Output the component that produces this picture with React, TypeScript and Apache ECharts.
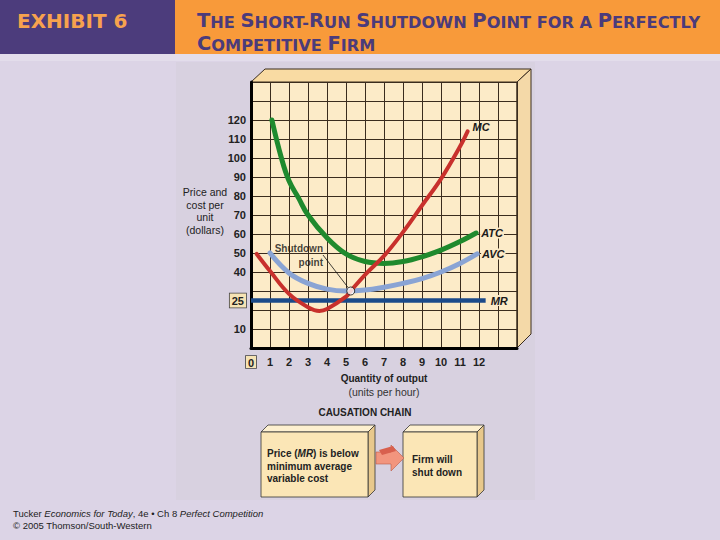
import React, { useEffect, useRef } from 'react';
import * as echarts from 'echarts';

// ---- data ----
const xTickLabels = [0, 1, 2, 3, 4, 5, 6, 7, 8, 9, 10, 11, 12];
const yTickLabels = [10, 25, 40, 50, 60, 70, 80, 90, 100, 110, 120];
const mcData = [[0.3, 49.5], [1, 40.5], [2, 28.5], [3, 21.5], [3.6, 19.5], [4, 20.5], [5, 27], [5.25, 30], [6, 38.5], [7, 48.5], [8, 61], [9, 75], [10, 89], [11, 106], [11.4, 114]];
const atcData = [[1.1, 120], [1.6, 100], [2, 88], [2.5, 79], [3, 70], [4, 58], [5, 49.5], [6, 45.5], [7, 44.5], [8, 45.5], [9, 48], [10, 51.5], [11, 56], [11.85, 60.5]];
const avcData = [[1, 50], [2, 39.5], [3, 34], [4, 31], [5, 30], [6, 30.5], [7, 32], [8, 34], [9, 36.5], [10, 40], [11, 44.5], [11.9, 49.5]];
const mrData = [[0, 25], [12.35, 25]];
const shutdownPoint = [[5.25, 30]];

const FONT = '"Liberation Sans", Arial, sans-serif';
const HFONT = '"DejaVu Sans", "Liberation Sans", sans-serif';
const CREAM = '#FCEBC8';
const GRIDC = '#3a2c1e';

function buildOption() {
  const endLbl = (extra: any = {}) => ({
    show: true,
    formatter: '{a}',
    fontStyle: 'italic',
    fontWeight: 'bold',
    fontSize: 11,
    fontFamily: FONT,
    color: '#1a1a1a',
    distance: 4,
    backgroundColor: CREAM,
    padding: [0, 1],
    ...extra,
  });

  const box3d = (x: number, y: number, w: number, h: number, d: number) => [
    { type: 'polygon', shape: { points: [[x, y], [x + d, y - d], [x + w + d, y - d], [x + w, y]] }, style: { fill: '#FDF0D0', stroke: '#333', lineWidth: 0.8 } },
    { type: 'polygon', shape: { points: [[x + w, y], [x + w + d, y - d], [x + w + d, y + h - d], [x + w, y + h]] }, style: { fill: '#E8C88C', stroke: '#333', lineWidth: 0.8 } },
    { type: 'rect', shape: { x, y, width: w, height: h }, style: { fill: '#FBE6B6', stroke: '#333', lineWidth: 0.8 } },
  ];

  const titleRich = {
    b: { fontSize: 19.5, fontWeight: 'bold', fontFamily: HFONT, fill: '#4B3B7B', verticalAlign: 'bottom' },
    s: { fontSize: 16.2, fontWeight: 'bold', fontFamily: HFONT, fill: '#4B3B7B', verticalAlign: 'bottom' },
  };

  return {
    animation: false,
    backgroundColor: '#DCD4E6',
    textStyle: { fontFamily: FONT },
    grid: { left: 251, top: 82, width: 266, height: 266, show: true, backgroundColor: CREAM, borderColor: GRIDC, borderWidth: 1 },
    xAxis: {
      type: 'value', min: 0, max: 14, interval: 1,
      axisLine: { show: true, lineStyle: { color: '#000', width: 3 } },
      axisTick: { show: false },
      splitLine: { show: true, lineStyle: { color: GRIDC, width: 1 } },
      axisLabel: {
        customValues: xTickLabels,
        margin: 8,
        fontSize: 11, fontWeight: 'bold', color: '#222', fontFamily: FONT,
        formatter: (v: number) => (v === 0 ? '{bx|0}' : String(v)),
        rich: { bx: { fontSize: 11, fontWeight: 'bold', color: '#222', backgroundColor: '#F6E3B4', borderColor: '#444', borderWidth: 0.8, padding: [1, 2, 0, 2] } },
      },
      name: '{b|Quantity of output}\n{r|(units per hour)}',
      nameLocation: 'middle',
      nameGap: 24,
      nameTextStyle: {
        rich: {
          b: { fontSize: 10, fontWeight: 'bold', color: '#222', lineHeight: 13, fontFamily: FONT },
          r: { fontSize: 10.5, color: '#333', lineHeight: 13, fontFamily: FONT },
        },
      },
    },
    yAxis: {
      type: 'value', min: 0, max: 140, interval: 10,
      axisLine: { show: true, lineStyle: { color: '#000', width: 3 } },
      axisTick: { show: false },
      splitLine: { show: true, lineStyle: { color: GRIDC, width: 1 } },
      axisLabel: {
        customValues: yTickLabels,
        margin: 5,
        fontSize: 11, fontWeight: 'bold', color: '#222', fontFamily: FONT,
        formatter: (v: number) => (v === 25 ? '{bx|25}' : String(v)),
        rich: { bx: { fontSize: 11, fontWeight: 'bold', color: '#222', backgroundColor: '#F6E3B4', borderColor: '#444', borderWidth: 0.8, padding: [2, 2, 1, 2] } },
      },
    },
    series: [
      {
        name: 'MR', type: 'line', data: mrData, showSymbol: false,
        lineStyle: { color: '#1B4A8A', width: 4.5 },
        endLabel: endLbl({ offset: [0, 0] }),
        z: 2,
      },
      {
        name: 'AVC', type: 'line', data: avcData, smooth: 0.4, showSymbol: false,
        lineStyle: { color: '#8AA4D4', width: 5, cap: 'round' },
        endLabel: endLbl(),
        z: 3,
      },
      {
        name: 'ATC', type: 'line', data: atcData, smooth: 0.4, showSymbol: false,
        lineStyle: { color: '#1F8A2E', width: 5, cap: 'round' },
        endLabel: endLbl(),
        z: 3,
      },
      {
        name: 'MC', type: 'line', data: mcData, smooth: 0.4, showSymbol: false,
        lineStyle: { color: '#C8302C', width: 4, cap: 'round' },
        endLabel: endLbl({ offset: [0, -4], backgroundColor: 'transparent' }),
        z: 4,
      },
      {
        name: 'Shutdown point', type: 'scatter', data: shutdownPoint,
        symbol: 'circle', symbolSize: 8,
        itemStyle: { color: '#fff', borderColor: '#111', borderWidth: 1 },
        label: {
          show: true, formatter: 'Shutdown\npoint', fontSize: 10, fontWeight: 'bold', color: '#111',
          align: 'right', lineHeight: 14, fontFamily: FONT,
        },
        labelLayout: { x: 323, y: 255, align: 'right', verticalAlign: 'middle' },
        labelLine: { show: true, lineStyle: { color: '#111', width: 0.8 } },
        z: 10,
      },
    ],
    graphic: [
      // panel behind chart
      { type: 'rect', z: -5, shape: { x: 176, y: 62, width: 359, height: 438 }, style: { fill: '#D8D1E0' } },
      // header
      { type: 'rect', shape: { x: 0, y: 0, width: 175, height: 54 }, style: { fill: '#4C3C7C' } },
      { type: 'rect', shape: { x: 175, y: 0, width: 545, height: 54 }, style: { fill: '#F89A3A' } },
      { type: 'rect', shape: { x: 0, y: 54, width: 720, height: 7 }, style: { fill: '#E3DDEB' } },
      { type: 'text', style: { text: 'EXHIBIT 6', x: 17, y: 21, fill: '#F7A24E', font: 'bold 20px ' + HFONT, verticalAlign: 'middle' } },
      {
        type: 'text',
        style: {
          x: 197, y: 30, verticalAlign: 'bottom', fill: '#4B3B7B',
          text: '{b|T}{s|HE }{b|S}{s|HORT-}{b|R}{s|UN }{b|S}{s|HUTDOWN }{b|P}{s|OINT FOR A }{b|P}{s|ERFECTLY}',
          rich: titleRich,
        },
      },
      {
        type: 'text',
        style: {
          x: 197, y: 53, verticalAlign: 'bottom', fill: '#4B3B7B',
          text: '{b|C}{s|OMPETITIVE }{b|F}{s|IRM}',
          rich: titleRich,
        },
      },
      // 3D faces of the chart board
      { type: 'polygon', shape: { points: [[251, 82], [265, 69], [531, 69], [517, 82]] }, style: { fill: '#F9DBA3', stroke: GRIDC, lineWidth: 1 } },
      { type: 'polygon', shape: { points: [[517, 82], [531, 69], [531, 334], [517, 348]] }, style: { fill: '#F4D9A8', stroke: GRIDC, lineWidth: 1 } },
      // y axis name
      {
        type: 'text',
        style: {
          x: 205, y: 211, align: 'center', verticalAlign: 'middle',
          text: 'Price and\ncost per\nunit\n(dollars)', fill: '#222', font: '10.5px ' + FONT, lineHeight: 12.7,
        },
      },
      // causation chain
      { type: 'text', style: { x: 365, y: 412, align: 'center', verticalAlign: 'middle', text: 'CAUSATION CHAIN', fill: '#222', font: 'bold 10px ' + FONT } },
      ...box3d(261, 432, 107, 65, 7),
      ...box3d(403, 432, 74, 65, 7),
      {
        type: 'text',
        style: {
          x: 267, y: 466, verticalAlign: 'middle', fill: '#222',
          text: 'Price ({i|MR}) is below\nminimum average\nvariable cost',
          font: 'bold 10px ' + FONT, lineHeight: 12.5,
          rich: { i: { fontStyle: 'italic', fontWeight: 'bold', fontSize: 10, fontFamily: FONT, fill: '#222' } },
        },
      },
      { type: 'text', style: { x: 412, y: 466, verticalAlign: 'middle', fill: '#222', text: 'Firm will\nshut down', font: 'bold 10px ' + FONT, lineHeight: 13 } },
      // arrow
      { type: 'polygon', shape: { points: [[376, 452], [391, 452], [391, 445], [404, 458], [391, 471], [391, 464], [376, 464]] }, style: { fill: '#F2957E', stroke: '#B85A48', lineWidth: 0.6 } },
      { type: 'polygon', shape: { points: [[379, 450], [393, 446], [396, 451], [382, 455]] }, style: { fill: '#D8604E' } },
      // footer
      {
        type: 'text',
        style: {
          x: 13, y: 513, verticalAlign: 'middle', fill: '#222',
          text: 'Tucker {i|Economics for Today}, 4e \u2022 Ch 8 {i|Perfect Competition}',
          font: '9.5px ' + FONT,
          rich: { i: { fontStyle: 'italic', fontSize: 9.5, fontFamily: FONT, fill: '#222' } },
        },
      },
      { type: 'text', style: { x: 13, y: 525, verticalAlign: 'middle', fill: '#222', text: '\u00A9 2005 Thomson/South-Western', font: '9.5px ' + FONT } },
    ],
  };
}

export default function App() {
  const ref = useRef<HTMLDivElement>(null);
  useEffect(() => {
    if (!ref.current) return;
    const chart = echarts.init(ref.current, null, { renderer: 'svg' });
    chart.setOption(buildOption() as any);
    return () => chart.dispose();
  }, []);
  return <div ref={ref} style={{ position: 'fixed', left: 0, top: 0, width: 720, height: 540 }} />;
}
